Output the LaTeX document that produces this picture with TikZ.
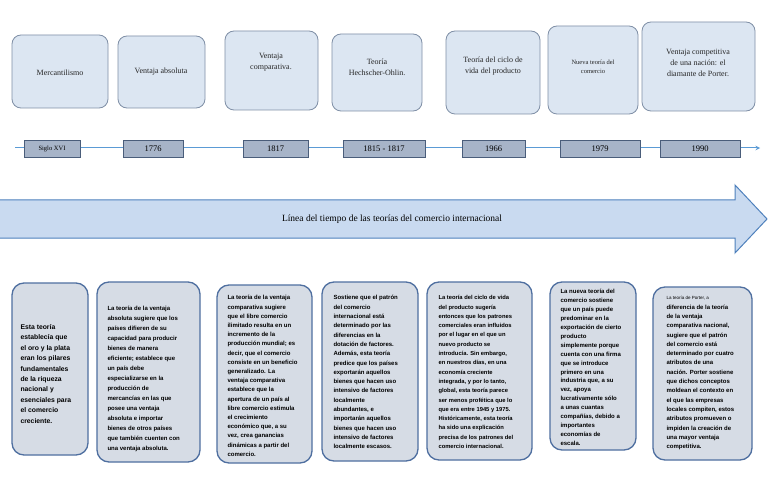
\documentclass[tikz,border=0pt]{standalone}
\usepackage{fontspec}
\setmainfont{Liberation Serif}
\newfontfamily\bodyfont{Liberation Sans}
\usetikzlibrary{shapes.arrows}
\definecolor{topfill}{HTML}{DCE6F2}
\definecolor{topdraw}{HTML}{7F8FA6}
\definecolor{yearfill}{HTML}{A7B4C8}
\definecolor{yeardraw}{HTML}{4A5D7A}
\definecolor{botfill}{HTML}{D6DCE5}
\definecolor{botdraw}{HTML}{4F6FA0}
\definecolor{linec}{HTML}{5B9BD5}
\definecolor{arrfill}{HTML}{C9DAF0}
\definecolor{arrdraw}{HTML}{4F81BD}
\begin{document}
\begin{tikzpicture}[x=1pt,y=-1pt,
  topbox/.style={draw=topdraw,fill=topfill,rounded corners=9pt,line width=0.8pt},
  toplabel/.style={align=center,font=\fontsize{8}{11}\selectfont,text=black!85},
  yearbox/.style={draw=yeardraw,fill=yearfill,line width=0.8pt,font=\fontsize{8.5}{10}\selectfont},
  botbox/.style={draw=botdraw,fill=botfill,rounded corners=12pt,line width=1.3pt},
  bottext/.style={align=left,font=\bodyfont\bfseries\fontsize{6}{9.3}\selectfont,anchor=north west}]
\useasboundingbox[fill=white] (0,0) rectangle (768,481);
% top boxes
\foreach \n/\a/\b/\c/\d in {t1/12/35/108/108,t2/118/36/205/108,t3/225/31/318/110,t4/332/34/422/111,t5/446/31/540/114,t6/548/26/638/114,t7/642/22/755/111}
  \draw[topbox] (\a,\b) rectangle (\c,\d) coordinate (\n);
\node[toplabel] (l1) at (60,73) {Mercantilismo};
\node[toplabel] (l2) at (161,72) {Ventaja absoluta};
\node[toplabel] (l3) at (271,62) {Ventaja\\comparativa.};
\node[toplabel] (l4) at (377,67) {Teoría\\Hechscher-Ohlin.};
\node[toplabel] (l5) at (493,66) {Teoría del ciclo de\\vida del producto};
\node[toplabel,font=\fontsize{6.5}{9}\selectfont] (l6) at (593,67) {Nueva teoría del\\comercio};
\node[toplabel] (l7) at (698,63) {Ventaja competitiva\\de una nación: el\\diamante de Porter.};
% timeline
\coordinate (ls) at (15,148); \coordinate (le) at (760,148);
\draw[linec,line width=1pt,-stealth] (ls) -- (le);
\foreach \n/\a/\b/\t in {y1/24/80/{\fontsize{6.5}{8}\selectfont Siglo XVI},y2/123/183/1776,y3/243/308/1817,y4/343/425/1815 - 1817,y5/462/525/1966,y6/560/640/1979,y7/660/740/1990}
  \node[yearbox,minimum height=17pt,minimum width={\b-\a},inner sep=0pt] (\n) at ({(\a+\b)/2},148.5) {\t};
% big arrow
\draw[draw=arrdraw,fill=arrfill,line width=1pt] (-2,200) -- (735,200) -- (735,185) -- (767,219) -- (735,253) -- (735,238) -- (-2,238) -- cycle;
\node[font=\fontsize{9.5}{11}\selectfont] (arrlabel) at (392,219) {Línea del tiempo de las teorías del comercio internacional};
% bottom boxes
\draw[botbox] (12,283) rectangle (88,455);
\draw[botbox] (97,282) rectangle (200,462);
\draw[botbox] (217,285) rectangle (312,463);
\draw[botbox] (322,282) rectangle (418,461);
\draw[botbox] (427,282) rectangle (532,460);
\draw[botbox] (550,282) rectangle (636,450);
\draw[botbox] (653,287) rectangle (752,460);
\node[bottext,font=\bodyfont\bfseries\fontsize{6.8}{10.4}\selectfont] (b1) at (17,321) {Esta teoría\\establecía que\\el oro y la plata\\eran los pilares\\fundamentales\\de la riqueza\\nacional y\\esenciales para\\el comercio\\creciente.};
\node[bottext,font=\bodyfont\bfseries\fontsize{6}{10}\selectfont] (b2) at (104,303) {La teoría de la ventaja\\absoluta sugiere que los\\países difieren de su\\capacidad para producir\\bienes de manera\\eficiente; establece que\\un país debe\\especializarse en la\\producción de\\mercancías en las que\\posee una ventaja\\absoluta e importar\\bienes de otros países\\que también cuenten con\\una ventaja absoluta.};
\node[bottext,font=\bodyfont\bfseries\fontsize{6}{9.2}\selectfont] (b3) at (224,292) {La teoría de la ventaja\\comparativa sugiere\\que el libre comercio\\ilimitado resulta en un\\incremento de la\\producción mundial; es\\decir, que el comercio\\consiste en un beneficio\\generalizado. La\\ventaja comparativa\\establece que la\\apertura de un país al\\libre comercio estimula\\el crecimiento\\económico que, a su\\vez, crea ganancias\\dinámicas a partir del\\comercio.};
\node[bottext] (b4) at (330,292) {Sostiene que el patrón\\del comercio\\internacional está\\determinado por las\\diferencias en la\\dotación de factores.\\Además, esta teoría\\predice que los países\\exportarán aquellos\\bienes que hacen uso\\intensivo de factores\\localmente\\abundantes, e\\importarán aquellos\\bienes que hacen uso\\intensivo de factores\\localmente escasos.};
\node[bottext,font=\bodyfont\bfseries\fontsize{5.8}{9.3}\selectfont] (b5) at (435,292) {La teoría del ciclo de vida\\del producto sugería\\entonces que los patrones\\comerciales eran influidos\\por el lugar en el que un\\nuevo producto se\\introducía. Sin embargo,\\en nuestros días, en una\\economía creciente\\integrada, y por lo tanto,\\global, esta teoría parece\\ser menos profética que lo\\que era entre 1945 y 1975.\\Históricamente, esta teoría\\ha sido una explicación\\precisa de los patrones del\\comercio internacional.};
\node[bottext,font=\bodyfont\bfseries\fontsize{6}{8.9}\selectfont] (b6) at (557,286) {La nueva teoría del\\comercio sostiene\\que un país puede\\predominar en la\\exportación de cierto\\producto\\simplemente porque\\cuenta con una firma\\que se introduce\\primero en una\\industria que, a su\\vez, apoya\\lucrativamente sólo\\a unas cuantas\\compañías, debido a\\importantes\\economías de\\escala.};
\node[bottext] (b7) at (663,293) {{\mdseries\fontsize{4.5}{9.3}\selectfont La teoría de Porter, a}\\diferencia de la teoría\\de la ventaja\\comparativa nacional,\\sugiere que el patrón\\del comercio está\\determinado por cuatro\\atributos de una\\nación. Porter sostiene\\que dichos conceptos\\moldean el contexto en\\el que las empresas\\locales compiten, estos\\atributos promueven o\\impiden la creación de\\una mayor ventaja\\competitiva.};
\end{tikzpicture}
\end{document}
